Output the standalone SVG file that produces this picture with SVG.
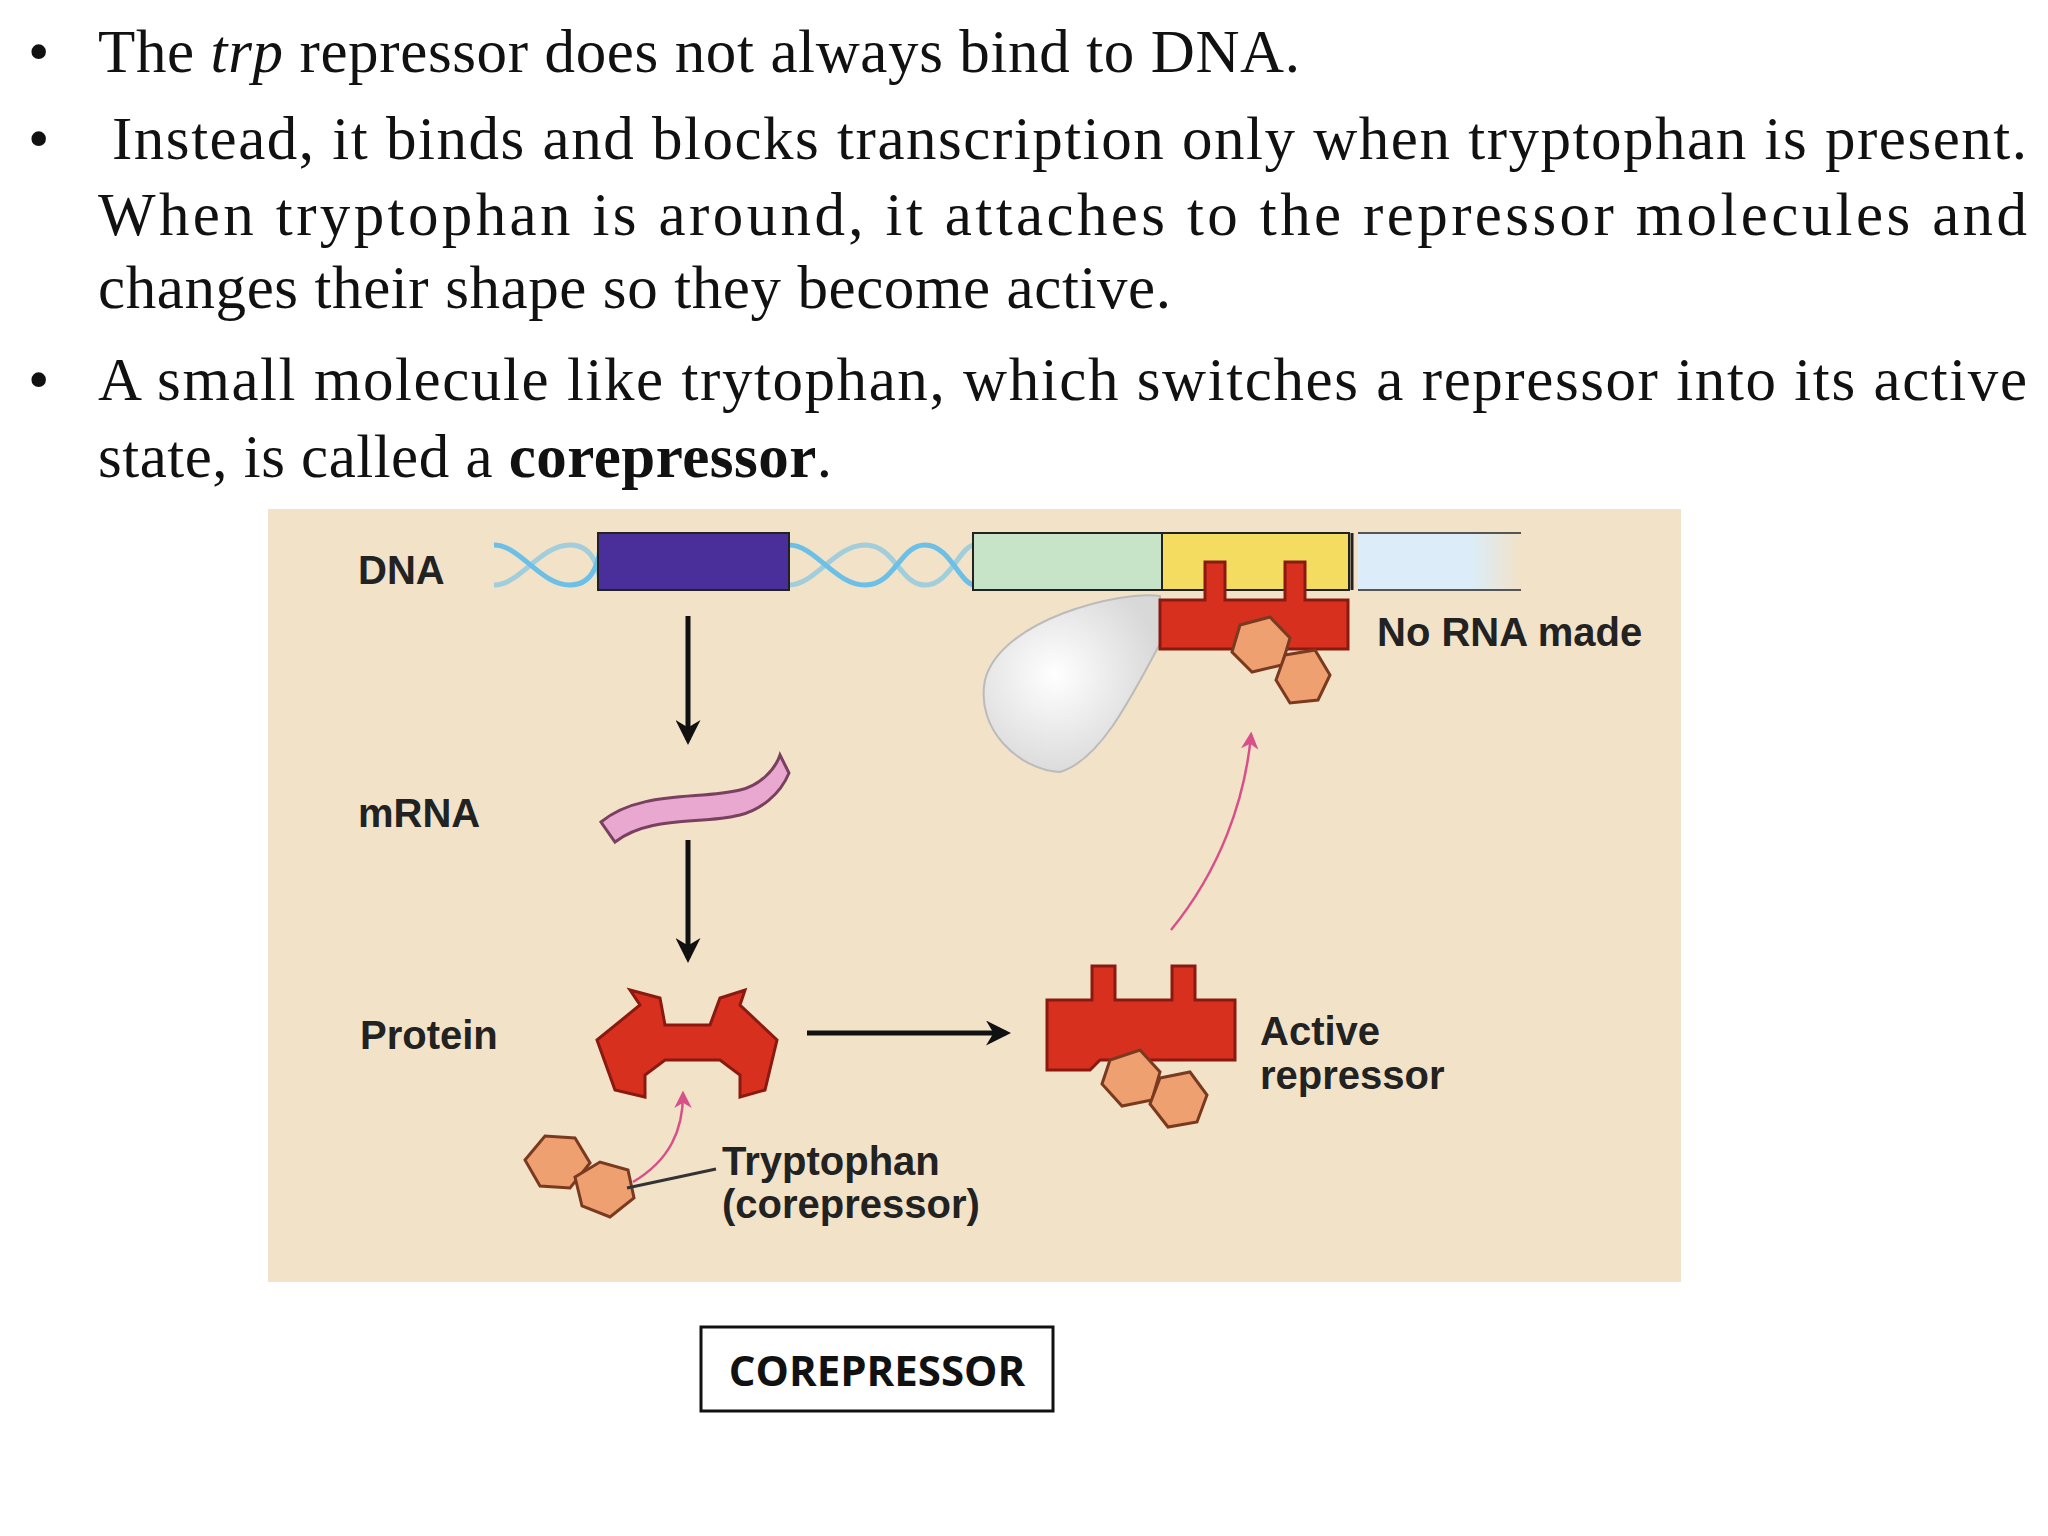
<svg xmlns="http://www.w3.org/2000/svg" width="2048" height="1536" viewBox="0 0 2048 1536">
<defs>
<style>
.t{font-family:"Liberation Serif",serif;font-size:61px;fill:#111}
.l{font-family:"Liberation Sans",Arial,sans-serif;font-weight:bold;font-size:40px;fill:#222}
.red{fill:#d8301f;stroke:#8a1a10;stroke-width:3}
.hex{fill:#eea070;stroke:#7a3a20;stroke-width:3}
.hel{fill:none;stroke:#6cc0e8;stroke-width:5}
</style>
<marker id="ab" viewBox="0 0 10 10" refX="8" refY="5" markerWidth="5" markerHeight="5" orient="auto"><path d="M0,0L10,5L0,10L3,5Z" fill="#111"/></marker>
<marker id="ap" viewBox="0 0 10 10" refX="8" refY="5" markerWidth="7" markerHeight="7" orient="auto"><path d="M0,0L10,5L0,10L3,5Z" fill="#d8508a"/></marker>
<linearGradient id="fade" x1="0" x2="1"><stop offset="0.7" stop-color="#dcecf8"/><stop offset="1" stop-color="#dcecf8" stop-opacity="0"/></linearGradient>
<radialGradient id="drop" cx="0.4" cy="0.45" r="0.6"><stop offset="0" stop-color="#fff"/><stop offset="1" stop-color="#d8d8d8"/></radialGradient>
</defs>
<rect width="2048" height="1536" fill="#fff"/>
<g id="text">
<text class="t" x="28" y="72">•</text>
<text class="t" x="98" y="72" textLength="1202" lengthAdjust="spacing">The <tspan font-style="italic">trp</tspan> repressor does not always bind to DNA.</text>
<text class="t" x="28" y="159">•</text>
<text class="t" x="112" y="159" textLength="1915" lengthAdjust="spacing">Instead, it binds and blocks transcription only when tryptophan is present.</text>
<text class="t" x="98" y="235" textLength="1929" lengthAdjust="spacing">When tryptophan is around, it attaches to the repressor molecules and</text>
<text class="t" x="98" y="308" textLength="1073" lengthAdjust="spacing">changes their shape so they become active.</text>
<text class="t" x="28" y="400">•</text>
<text class="t" x="98" y="400" textLength="1929" lengthAdjust="spacing">A small molecule like trytophan, which switches a repressor into its active</text>
<text class="t" x="98" y="477" textLength="734" lengthAdjust="spacing">state, is called a <tspan font-weight="bold">corepressor</tspan>.</text>
</g>
<rect id="panel" x="268" y="509" width="1413" height="773" fill="#f2e2c8"/>
<g id="dna">
<text class="l" x="358" y="584">DNA</text>
<path class="hel" d="M494,545 C520,545 540,585 570,585 S600,545 600,545"/>
<path class="hel" d="M494,585 C520,585 540,545 570,545 S600,585 600,585" stroke-opacity="0.6"/>
<path class="hel" d="M789,545 C815,545 835,585 865,585 S900,545 925,545 S960,585 975,585"/>
<path class="hel" d="M789,585 C815,585 835,545 865,545 S900,585 925,585 S960,545 975,545" stroke-opacity="0.6"/>
<rect x="598" y="533" width="191" height="57" fill="#4a2e9a" stroke="#222" stroke-width="2"/>
<rect x="973" y="533" width="189" height="57" fill="#c8e4c8" stroke="#222" stroke-width="2"/>
<rect x="1162" y="533" width="187" height="57" fill="#f4dc60" stroke="#222" stroke-width="2"/>
<rect x="1358" y="533" width="163" height="57" fill="url(#fade)"/>
<line x1="1352" y1="533" x2="1352" y2="590" stroke="#222" stroke-width="3"/>
<line x1="1358" y1="533" x2="1521" y2="533" stroke="#555" stroke-width="2"/>
<line x1="1358" y1="590" x2="1521" y2="590" stroke="#555" stroke-width="2"/>
</g>
<g id="polymerase"><path d="M1160,596 C1120,590 1000,620 985,680 C975,730 1020,770 1060,772 C1100,760 1130,700 1162,640 Z" fill="url(#drop)" stroke="#bbb" stroke-width="2"/></g>
<g id="bound-repressor">
<path class="red" d="M1160,600 H1205 V562 H1225 V600 H1285 V562 H1305 V600 H1348 V649 H1160 Z"/>
<polygon class="hex" points="1240,625 1270,617 1290,638 1282,665 1252,672 1232,652"/>
<polygon class="hex" points="1285,655 1315,650 1330,675 1318,700 1290,703 1276,680"/>
<text class="l" x="1377" y="646">No RNA made</text>
</g>
<g id="mrna">
<text class="l" x="358" y="827">mRNA</text>
<path d="M601,822 C640,790 700,800 740,790 C760,785 775,770 780,755 L789,773 C780,795 760,810 740,815 C700,825 650,815 615,842 Z" fill="#e8a8d0" stroke="#7a4060" stroke-width="3"/>
</g>
<g id="protein">
<text class="l" x="360" y="1049">Protein</text>
<path class="red" d="M597,1040 L640,1005 L630,990 L660,998 L665,1025 H710 L720,998 L745,990 L740,1005 L777,1040 L765,1090 L740,1097 L740,1075 L720,1060 H665 L645,1075 L645,1097 L615,1090 Z"/>
</g>
<g id="active-repressor">
<path class="red" d="M1047,1000 H1092 V966 H1115 V1000 H1172 V966 H1195 V1000 H1235 V1060 H1100 L1090,1070 H1047 Z"/>
<polygon class="hex" points="1110,1060 1140,1050 1160,1072 1152,1100 1122,1106 1102,1084"/>
<polygon class="hex" points="1160,1078 1190,1072 1207,1095 1197,1122 1168,1127 1150,1104"/>
<text class="l" x="1260" y="1045">Active</text>
<text class="l" x="1260" y="1089">repressor</text>
</g>
<g id="tryptophan">
<polygon class="hex" points="525,1160 545,1136 575,1138 590,1163 570,1188 540,1186"/>
<polygon class="hex" points="575,1177 600,1162 628,1170 634,1198 610,1217 582,1206"/>
<line x1="627" y1="1188" x2="716" y2="1169" stroke="#333" stroke-width="3"/>
<text class="l" x="722" y="1175">Tryptophan</text>
<text class="l" x="722" y="1218">(corepressor)</text>
</g>
<g id="connectors">
<line x1="688" y1="616" x2="688" y2="740" stroke="#111" stroke-width="5" marker-end="url(#ab)"/>
<line x1="688" y1="840" x2="688" y2="958" stroke="#111" stroke-width="5" marker-end="url(#ab)"/>
<line x1="807" y1="1033" x2="1006" y2="1033" stroke="#111" stroke-width="5" marker-end="url(#ab)"/>
<path d="M1171,930 C1220,870 1245,800 1251,735" fill="none" stroke="#d8508a" stroke-width="2.5" marker-end="url(#ap)"/>
<path d="M633,1182 C670,1160 683,1130 683,1094" fill="none" stroke="#d8508a" stroke-width="2.5" marker-end="url(#ap)"/>
</g>
<g id="label-box">
<rect x="701" y="1327" width="352" height="84" fill="#fff" stroke="#111" stroke-width="3"/>
<text x="877" y="1386" text-anchor="middle" font-family="'Open Sans',sans-serif" font-weight="bold" font-size="42" fill="#111">COREPRESSOR</text>
</g>
</svg>
